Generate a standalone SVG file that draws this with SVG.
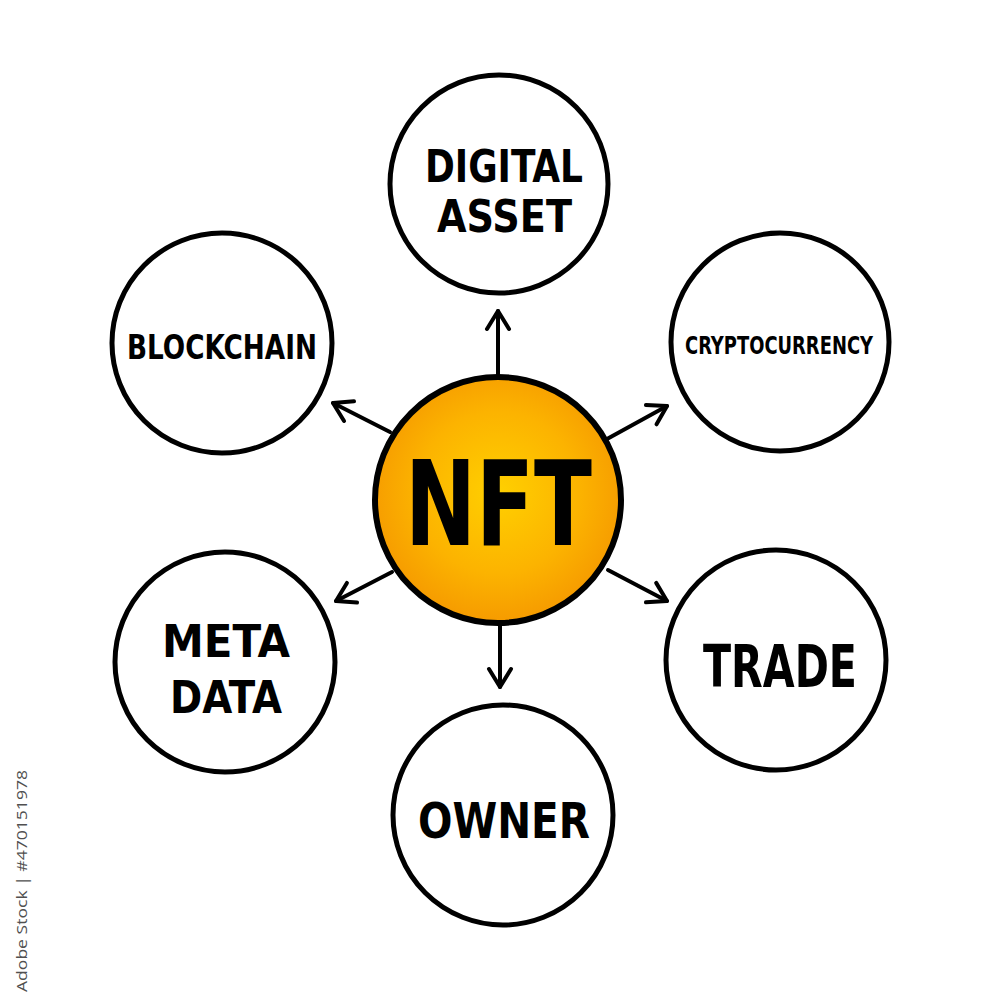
<svg xmlns="http://www.w3.org/2000/svg" width="1000" height="1000" viewBox="0 0 1000 1000">
<style>
.ring{fill:#ffffff;stroke:#000000;stroke-width:5}
.core{stroke:#000000;stroke-width:6}
.lbl{font-family:"Liberation Sans Narrow","DejaVu Sans Condensed","Liberation Sans",sans-serif;font-weight:bold;fill:#000000;text-anchor:middle}
.conn{stroke:#000000;stroke-width:4;fill:none;stroke-linecap:round;marker-end:url(#chev)}
.credit{font-family:"Open Sans","Liberation Sans",sans-serif;font-size:15px;fill:#505050}
</style>
<defs>
<radialGradient id="orange" cx="0.5" cy="0.47" r="0.55">
<stop offset="0" stop-color="#FFD000"/>
<stop offset="0.6" stop-color="#FCB300"/>
<stop offset="1" stop-color="#F59800"/>
</radialGradient>
<marker id="chev" markerUnits="userSpaceOnUse" markerWidth="30" markerHeight="30" viewBox="-24 -15 30 30" refX="0" refY="0" orient="auto">
<path d="M-18,-11 L0,0 L-18,11" fill="none" stroke="#000000" stroke-width="4" stroke-linecap="round" stroke-linejoin="round"/>
</marker>
</defs>
<rect width="1000" height="1000" fill="#ffffff"/>
<g id="connectors">
<line class="conn" x1="498" y1="377" x2="498" y2="311"/>
<line class="conn" x1="607" y1="439" x2="667" y2="406"/>
<line class="conn" x1="608" y1="570" x2="667" y2="601"/>
<line class="conn" x1="500" y1="624" x2="500" y2="687"/>
<line class="conn" x1="392" y1="572" x2="336" y2="601"/>
<line class="conn" x1="390" y1="432" x2="333" y2="403"/>
</g>
<g id="nft">
<circle class="core" cx="498" cy="500" r="123" fill="url(#orange)"/>
<text class="lbl" x="498.5" y="545" font-size="118" textLength="187" lengthAdjust="spacingAndGlyphs">NFT</text>
</g>
<g id="digital-asset">
<circle class="ring" cx="499" cy="184" r="109"/>
<text class="lbl" x="504" y="182" font-size="44" textLength="158" lengthAdjust="spacingAndGlyphs">DIGITAL</text>
<text class="lbl" x="504.5" y="232" font-size="44" textLength="135" lengthAdjust="spacingAndGlyphs">ASSET</text>
</g>
<g id="cryptocurrency">
<circle class="ring" cx="780" cy="342" r="109"/>
<text class="lbl" x="779" y="354" font-size="25" textLength="188" lengthAdjust="spacingAndGlyphs">CRYPTOCURRENCY</text>
</g>
<g id="trade">
<circle class="ring" cx="776" cy="660" r="110"/>
<text class="lbl" x="780" y="687" font-size="58" textLength="154" lengthAdjust="spacingAndGlyphs">TRADE</text>
</g>
<g id="owner">
<circle class="ring" cx="503" cy="815" r="110"/>
<text class="lbl" x="504" y="838" font-size="50" textLength="172" lengthAdjust="spacingAndGlyphs">OWNER</text>
</g>
<g id="meta-data">
<circle class="ring" cx="225" cy="662" r="110"/>
<text class="lbl" x="226" y="657" font-size="44" textLength="128" lengthAdjust="spacingAndGlyphs">META</text>
<text class="lbl" x="226" y="713" font-size="44" textLength="112" lengthAdjust="spacingAndGlyphs">DATA</text>
</g>
<g id="blockchain">
<circle class="ring" cx="222" cy="343" r="110"/>
<text class="lbl" x="222" y="359" font-size="33" textLength="190" lengthAdjust="spacingAndGlyphs">BLOCKCHAIN</text>
</g>
<text class="credit" transform="translate(27,992) rotate(-90)" x="0" y="0" textLength="222" lengthAdjust="spacingAndGlyphs">Adobe Stock | #470151978</text>
</svg>
